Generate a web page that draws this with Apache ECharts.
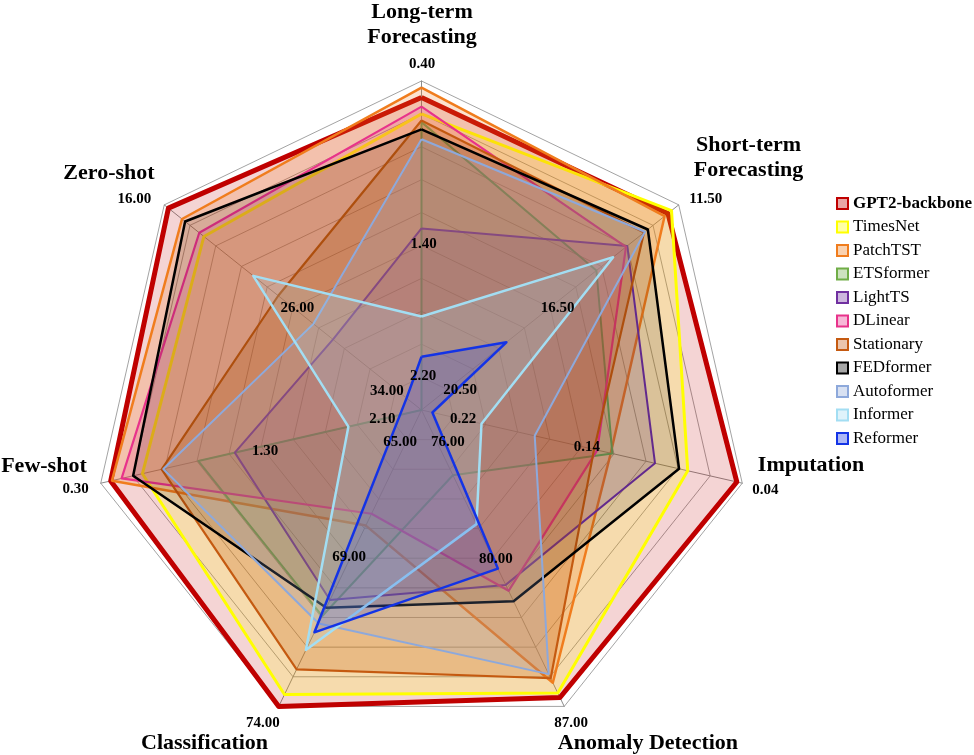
<!DOCTYPE html>
<html><head><meta charset="utf-8">
<script src="https://cdn.jsdelivr.net/npm/echarts@6/dist/echarts.min.js"></script>
<style>html,body{margin:0;padding:0;background:#fff}#c{width:974px;height:755px}</style>
</head><body><div id="c"></div>
<script>
// ---- data ----
const axisNames = ['Long-term\nForecasting', 'Short-term\nForecasting', 'Imputation', 'Anomaly Detection', 'Classification', 'Few-shot', 'Zero-shot'];
const innerTicks = ['2.20', '20.50', '0.22', '76.00', '65.00', '2.10', '34.00'];   // ring 1
const midTicks   = ['1.40', '16.50', '0.14', '80.00', '69.00', '1.30', '26.00'];   // ring 5
const outerTicks = ['0.40', '11.50', '0.04', '87.00', '74.00', '0.30', '16.00'];   // ring 10
const seriesNames = ['GPT2-backbone', 'TimesNet', 'PatchTST', 'ETSformer', 'LightTS', 'DLinear', 'Stationary', 'FEDformer', 'Autoformer', 'Informer', 'Reformer'];
// scores on the 0-10 ring scale, axis order as axisNames
const gpt2       = [9.50, 9.58, 9.83, 9.70, 10.0, 9.69, 9.84];
const timesNet   = [9.00, 9.72, 8.30, 9.55, 9.60, 8.70, 8.46];
const patchTST   = [9.80, 9.45, 5.90, 9.20, 3.90, 9.65, 9.31];
const etsformer  = [8.75, 6.80, 5.95, 2.20, 6.95, 6.96, 0.00];
const lightTS    = [5.52, 8.00, 7.28, 5.90, 6.41, 5.82, 3.44];
const dLinear    = [9.22, 7.95, 5.48, 6.10, 3.50, 9.35, 8.64];
const stationary = [8.80, 8.65, 5.38, 9.05, 8.75, 8.10, 5.57];
const fedformer  = [8.53, 8.80, 8.03, 6.45, 6.67, 8.99, 9.19];
const autoformer = [8.23, 8.69, 3.53, 8.91, 7.20, 8.05, 4.20];
const informer   = [2.84, 7.45, 1.87, 3.85, 8.10, 2.28, 6.54];
const reformer   = [1.62, 3.30, 0.34, 5.35, 7.50, 0.67, 0.58];
const seriesValues = [gpt2, timesNet, patchTST, etsformer, lightTS, dLinear, stationary, fedformer, autoformer, informer, reformer];

// ---- styles ----
const SERIF = "'Liberation Serif','Times New Roman',serif";
const colors = ['#C00000', '#FFFF00', '#F07D1E', '#70AD47', '#7030A0', '#E8338B', '#C55A11', '#000000', '#8EA9DB', '#A3DEF3', '#1434E6'];
const widths = [5, 3, 2.5, 2, 2, 2.2, 2.2, 2.5, 2, 2.5, 2.5];
const fillAlpha = [0.24, 0.26, 0.3, 0.22, 0.22, 0.26, 0.36, 0.16, 0.28, 0.26, 0.26];
function rgba(hex, a) {
  const n = parseInt(hex.slice(1), 16);
  return 'rgba(' + (n >> 16 & 255) + ',' + (n >> 8 & 255) + ',' + (n & 255) + ',' + a + ')';
}
const CX = 421.5, CY = 410, R = 329;
// ECharts places radar indicators counter-clockwise; list them so the picture reads clockwise
const order = [0, 6, 5, 4, 3, 2, 1];
function reorder(arr) { return order.map(i => arr[i]); }

// small nudges of the ring labels (dx, dy in px), axis order as axisNames
const innerNudge = [[1.5, -1], [13, 0.5], [9.5, 2], [12, 2], [-7, 2], [-7, 2], [-9, 1.5]];
const midNudge   = [[2, -1.5], [7.5, 1], [5, 1], [3, 1], [-1, -1], [4, 5], [4.5, 1]];
function pad(d) {
  return [d[1] > 0 ? 2 * d[1] : 0, d[0] < 0 ? -2 * d[0] : 0, d[1] < 0 ? -2 * d[1] : 0, d[0] > 0 ? 2 * d[0] : 0];
}
const tickTxt = { fontFamily: SERIF, fontSize: 15, fontWeight: 'bold', color: '#000' };

const gridIndicator = order.map(i => ({ name: axisNames[i], min: 0, max: 10 }));
const labelIndicator = order.map(i => ({
  name: axisNames[i], min: 0, max: 10,
  axisLabel: {
    show: true, margin: 0, align: 'center', verticalAlign: 'middle',
    fontFamily: SERIF, fontSize: 15, fontWeight: 'bold', color: '#000',
    rich: {
      a: Object.assign({ padding: pad(innerNudge[i]) }, tickTxt),
      b: Object.assign({ padding: pad(midNudge[i]) }, tickTxt)
    },
    formatter: function (v) {
      const k = Math.round(v);
      return k === 1 ? '{a|' + innerTicks[i] + '}' : (k === 5 ? '{b|' + midTicks[i] + '}' : '');
    }
  }
}));

// name / outer value label placement relative to each axis end
const nameOffsets  = [[0.5, -56.5], [69.8, -47.4], [68.8, -18.2], [83.7, 36.6], [-74.2, 36.6], [-56.8, -16.5], [-55.3, -31.9]];
const outerOffsets = [[0.5, -17], [27, -6], [23, 7], [7, 17], [-16, 17], [-25, 6], [-30, -6]];
function axisEnd(i) {
  const a = Math.PI / 2 - i * 2 * Math.PI / 7;
  return [CX + R * Math.cos(a), CY - R * Math.sin(a)];
}
const graphics = [];
axisNames.forEach((nm, i) => {
  const e = axisEnd(i);
  graphics.push({ type: 'text', x: e[0] + nameOffsets[i][0], y: e[1] + nameOffsets[i][1], z: 100,
    style: { text: nm, fontFamily: SERIF, fontSize: 22, fontWeight: 'bold', fill: '#000', lineHeight: 25,
      align: 'center', verticalAlign: 'middle', textAlign: 'center', textVerticalAlign: 'middle' } });
  graphics.push({ type: 'text', x: e[0] + outerOffsets[i][0], y: e[1] + outerOffsets[i][1], z: 100,
    style: { text: outerTicks[i], fontFamily: SERIF, fontSize: 15, fontWeight: 'bold', fill: '#000',
      align: 'center', verticalAlign: 'middle', textAlign: 'center', textVerticalAlign: 'middle' } });
});

const chart = echarts.init(document.getElementById('c'), null, { renderer: 'canvas' });
chart.setOption({
  animation: false,
  backgroundColor: '#fff',
  legend: {
    orient: 'vertical', left: 836, top: 195, padding: 0, icon: 'rect', itemWidth: 11, itemHeight: 11, itemGap: 6.5,
    textStyle: { fontFamily: SERIF, fontSize: 17, color: '#000', lineHeight: 17,
      rich: { b: { fontFamily: SERIF, fontSize: 17, fontWeight: 'bold', color: '#000' } } },
    formatter: n => n === seriesNames[0] ? '{b|' + n + '}' : n,
    data: seriesNames.map((n, i) => ({ name: n, itemStyle: { color: rgba(colors[i], 0.35), borderColor: colors[i], borderWidth: 2 } }))
  },
  radar: [{
    center: [CX, CY], radius: R, startAngle: 90, splitNumber: 10, shape: 'polygon', z: 1,
    indicator: gridIndicator,
    axisName: { show: false },
    splitLine: { lineStyle: { color: '#8c8c8c', width: 0.8 } },
    splitArea: { show: false },
    axisLine: { lineStyle: { color: '#8c8c8c', width: 1 } },
    axisTick: { show: false },
    axisLabel: { show: false }
  }, {
    center: [CX, CY], radius: R, startAngle: 90, splitNumber: 10, shape: 'polygon', z: 20,
    indicator: labelIndicator,
    axisName: { show: false },
    splitLine: { show: false },
    splitArea: { show: false },
    axisLine: { show: false },
    axisTick: { show: false },
    axisLabel: { show: true }
  }],
  graphic: graphics,
  series: seriesNames.map((n, i) => ({
    type: 'radar', name: n, symbol: 'none', radarIndex: 0,
    lineStyle: { color: colors[i], width: widths[i] },
    itemStyle: { color: colors[i] },
    areaStyle: { color: rgba(colors[i], fillAlpha[i]) },
    data: [{ name: n, value: reorder(seriesValues[i]) }]
  }))
});
</script></body></html>
